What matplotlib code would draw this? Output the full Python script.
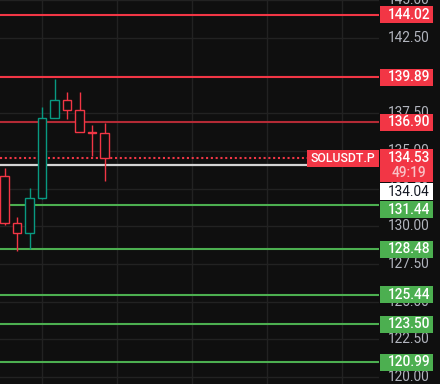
import matplotlib
matplotlib.use('Agg')
import matplotlib.pyplot as plt
from matplotlib.patches import Rectangle

# ---- data ----
opens  = [133.34, 130.20, 129.53, 131.86, 137.16, 138.36, 137.70, 136.24, 136.17]
highs  = [133.89, 130.62, 132.54, 137.92, 139.77, 138.91, 138.91, 136.72, 136.83]
lows   = [130.10, 128.38, 128.47, 131.80, 137.16, 137.14, 136.24, 134.68, 133.02]
closes = [130.20, 129.53, 131.86, 137.16, 138.36, 137.70, 136.24, 136.20, 134.53]

resistance_levels = [144.02, 139.89, 136.90]
support_levels = [131.44, 128.48, 125.44, 123.50, 120.99]
reference_price = 134.04
last_price = 134.53
countdown = "49:19"
symbol = "SOLUSDT.P"
price_ticks = [120.0, 122.5, 125.0, 127.5, 130.0, 132.5, 135.0, 137.5, 140.0, 142.5, 145.0]
time_grid = [3, 9, 15, 21, 27]

# ---- style ----
BG = '#0f0f0f'
GRID = '#222222'
RED = '#f23645'
RED_DIM = '#b32a35'
GREEN_C = '#089981'
GREEN_L = '#4caf50'
TICK = '#b2b5be'
FONT = 'Roboto'
FS = 9.8
FW = 500

W, H = 440, 384
PLOT_W = 379
YMAX, YMIN = 145.015, 119.53
XMIN, XMAX = -0.36, 29.96
ppx = (YMAX - YMIN) / H

fig = plt.figure(figsize=(W / 100, H / 100), dpi=100, facecolor=BG)
ax = fig.add_axes([0, 0, PLOT_W / W, 1])
pax = fig.add_axes([PLOT_W / W, 0, (W - PLOT_W) / W, 1])
for a in (ax, pax):
    a.set_facecolor(BG)
    a.set_ylim(YMIN, YMAX)
    a.set_xticks([]); a.set_yticks([])
    for s in a.spines.values():
        s.set_visible(False)
ax.set_xlim(XMIN, XMAX)
pax.set_xlim(0, W - PLOT_W)

# grid
for t in price_ticks:
    ax.axhline(t, color=GRID, lw=1, zorder=0)
for g in time_grid:
    ax.axvline(g, color=GRID, lw=1, zorder=0)

# levels
for p in resistance_levels:
    ax.axhline(p, color=RED_DIM if p == resistance_levels[-1] else RED, lw=1.5, zorder=2)
for p in support_levels:
    ax.axhline(p, color=GREEN_L, lw=1.5, zorder=2)
ax.axhline(reference_price, color='#d4d4d4', lw=1.6, zorder=2)
ax.axhline(last_price, color=RED, lw=1.5, ls=(0, (1, 1.3)), zorder=2)

# candles
bw = 0.66
for i, (o, h, l, c) in enumerate(zip(opens, highs, lows, closes)):
    col = GREEN_C if c > o else RED
    top, bot = max(o, c), min(o, c)
    ax.plot([i, i], [top, h], color=col, lw=1, zorder=3, solid_capstyle='butt')
    ax.plot([i, i], [l, bot], color=col, lw=1, zorder=3, solid_capstyle='butt')
    ax.add_patch(Rectangle((i - bw / 2, bot), bw, max(top - bot, 0.02),
                           facecolor=BG if top - bot > 0.1 else col,
                           edgecolor=col, lw=1, zorder=4))

# symbol label
trans = ax.get_yaxis_transform()
sy = last_price
ax.add_patch(Rectangle((307 / PLOT_W, sy - 9.5 * ppx), 72 / PLOT_W, 17.5 * ppx,
                       transform=trans, facecolor=RED, edgecolor='none', zorder=6, clip_on=False))
ax.text(343 / PLOT_W, sy - 1 * ppx, symbol, transform=trans, color='white', fontsize=8.9,
        family=FONT, weight=FW, ha='center', va='center', zorder=7)

# price axis tick labels
TX = 30
for t in price_ticks:
    pax.text(TX, t, f"{t:.2f}", color=TICK, fontsize=FS, family=FONT,
             ha='center', va='center', zorder=1, clip_on=True)

# label boxes, stacked to avoid overlap (pixel space, y downward)
def ypix(p):
    return (YMAX - p) / ppx

labels = []
for p in resistance_levels:
    labels.append(dict(p=p, bg=RED, fg='white', h=17, lines=[f"{p:.2f}"]))
labels.append(dict(p=last_price, bg=RED, fg='white', h=33, lines=[f"{last_price:.2f}", countdown]))
labels.append(dict(p=reference_price, bg='white', fg='#131722', h=17, lines=[f"{reference_price:.2f}"]))
for p in support_levels:
    labels.append(dict(p=p, bg=GREEN_L, fg='white', h=17, lines=[f"{p:.2f}"]))
labels.sort(key=lambda d: -d['p'])

prev_bottom = -100
for d in labels:
    top = ypix(d['p']) - 8.5
    if top < prev_bottom + 1:
        top = prev_bottom + 1
    bottom = top + d['h']
    prev_bottom = bottom
    pax.add_patch(Rectangle((1, YMAX - bottom * ppx), 53, d['h'] * ppx,
                            facecolor=d['bg'], edgecolor='none', zorder=5))
    for k, s in enumerate(d['lines']):
        col = d['fg'] if k == 0 else '#f8c2c7'
        cy = top + 8.5 + 15.5 * k
        pax.text(TX, YMAX - cy * ppx, s, color=col, fontsize=FS, family=FONT,
                 weight=FW if d['bg'] != 'white' else 'normal',
                 ha='center', va='center', zorder=6)

fig.savefig('out.png', dpi=100, facecolor=BG)
